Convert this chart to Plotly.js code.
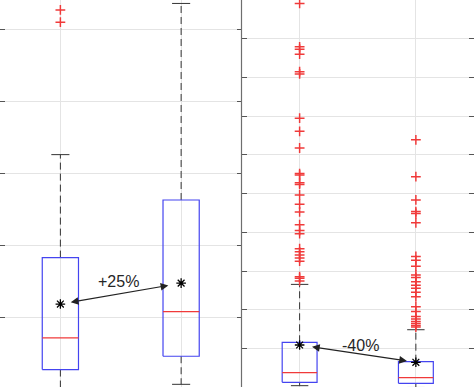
<!DOCTYPE html>
<html>
<head>
<meta charset="utf-8">
<script src="https://cdn.plot.ly/plotly-3.0.1.min.js"></script>
<style>
html,body{margin:0;padding:0;background:#fff;overflow:hidden;}
#chart{width:474px;height:387px;}
</style>
</head>
<body>
<div id="chart"></div>
<script>
// ---- data ----
const positions = [1, 2];

// left panel
const leftQ1 = [5.4, 9.1];
const leftMedian = [14.2, 21.5];
const leftQ3 = [36.5, 52.5];
const leftLower = [0, 1.3];
const leftUpper = [65.1, 107.1];
const leftMean = [23.6, 29.4];
const leftOutliersA = [101.9, 105.3];
const leftOutliersB = [];

// right panel
const rightQ1 = [1.33, 1.07];
const rightMedian = [3.81, 2.52];
const rightQ3 = [11.66, 6.65];
const rightLower = [0.46, 0];
const rightUpper = [26.6, 14.9];
const rightMean = [10.96, 6.5];
const rightOutliersA = [99.1, 87.9, 87.3, 86.0, 81.5, 80.9, 69.5, 66.1, 61.8, 55.2, 54.8, 52.8, 52.4,
  49.7, 47.3, 45.3, 42.0, 40.5, 39.7, 35.8, 35.0, 34.2, 33.4, 32.6, 28.6, 28.2, 27.5];
const rightOutliersB = [63.9, 54.4, 48.4, 45.4, 44.9, 42.5, 33.8, 32.8, 31.3, 29.0, 28.4, 27.3, 26.4,
  25.6, 24.6, 23.4, 20.8, 19.6, 18.3, 17.7, 17.0, 16.5, 16.0, 15.6];

const changeLabels = ['+25%', '-40%'];

// ---- styling ----
const BOX_W = 0.3, CAP_W = 0.15;
const BLUE = '#4444f0', RED = '#f03a3a', WHISK = '#333333';

function panelTraces(xa, ya, q1, med, q3, lo, hi, mean, outs) {
  const tr = [];
  positions.forEach((c, i) => {
    const L = c - BOX_W / 2, R = c + BOX_W / 2;
    // whiskers (dashed)
    tr.push({type:'scatter', mode:'lines', xaxis:xa, yaxis:ya, hoverinfo:'skip',
      x:[c, c, null, c, c], y:[q3[i], hi[i], null, q1[i], lo[i]],
      line:{color:WHISK, width:1, dash:'7px,4px'}});
    // caps
    tr.push({type:'scatter', mode:'lines', xaxis:xa, yaxis:ya, hoverinfo:'skip',
      x:[c - CAP_W/2, c + CAP_W/2, null, c - CAP_W/2, c + CAP_W/2],
      y:[hi[i], hi[i], null, lo[i], lo[i]],
      line:{color:WHISK, width:1}});
    // box
    tr.push({type:'scatter', mode:'lines', xaxis:xa, yaxis:ya, hoverinfo:'skip',
      x:[L, R, R, L, L], y:[q1[i], q1[i], q3[i], q3[i], q1[i]],
      line:{color:BLUE, width:1.2}});
    // median
    tr.push({type:'scatter', mode:'lines', xaxis:xa, yaxis:ya, hoverinfo:'skip',
      x:[L, R], y:[med[i], med[i]], line:{color:RED, width:1.2}});
    // outliers
    if (outs[i].length) {
      tr.push({type:'scatter', mode:'markers', xaxis:xa, yaxis:ya, hoverinfo:'skip',
        x:outs[i].map(() => c), y:outs[i],
        marker:{symbol:'cross-thin-open', size:7, color:RED, line:{color:RED, width:1.5}}});
    }
  });
  // means
  tr.push({type:'scatter', mode:'markers', xaxis:xa, yaxis:ya, hoverinfo:'skip',
    x:positions, y:mean,
    marker:{symbol:'asterisk-open', size:8, color:'#000', line:{color:'#000', width:1.3}}});
  return tr;
}

const data = [].concat(
  panelTraces('x', 'y', leftQ1, leftMedian, leftQ3, leftLower, leftUpper, leftMean, [leftOutliersA, leftOutliersB]),
  panelTraces('x2', 'y2', rightQ1, rightMedian, rightQ3, rightLower, rightUpper, rightMean, [rightOutliersA, rightOutliersB])
);

const split = 241.5 / 474;
const gridC = '#e4e4e4', tickC = '#555';
const xCommon = {range:[0.5, 2.5], tickvals:positions, showgrid:true, gridcolor:gridC, gridwidth:1,
  showticklabels:false, ticks:'', zeroline:false, showline:false, fixedrange:true};
const yCommon = {showgrid:true, gridcolor:gridC, gridwidth:1, showticklabels:false, ticks:'inside',
  ticklen:5, tickwidth:1, tickcolor:tickC, mirror:'ticks', zeroline:false, showline:false, fixedrange:true};

const arrowFont = {family:'Liberation Sans, Arial, sans-serif', size:16, color:'#262626'};

const layout = {
  width:474, height:387,
  margin:{l:0, r:0, t:0, b:0, pad:0},
  paper_bgcolor:'#fff', plot_bgcolor:'#fff',
  showlegend:false,
  xaxis: Object.assign({}, xCommon, {domain:[0, split], anchor:'y'}),
  yaxis: Object.assign({}, yCommon, {range:[0.556, 108.056], tick0:0, dtick:20, anchor:'x'}),
  xaxis2: Object.assign({}, xCommon, {domain:[split, 1], anchor:'y2'}),
  yaxis2: Object.assign({}, yCommon, {range:[0.12, 99.99], tick0:0, dtick:10, anchor:'x2'}),
  shapes:[
    {type:'line', xref:'x2 domain', yref:'paper', x0:0, x1:0, y0:0, y1:1,
     line:{color:'#6e6e6e', width:1.2}}
  ],
  annotations:[
    {xref:'x', yref:'y', axref:'x', ayref:'y', x:positions[1], y:leftMean[1], ax:positions[0], ay:leftMean[0],
     showarrow:true, arrowside:'end+start', arrowhead:2, startarrowhead:2, arrowsize:1.4, startarrowsize:1.4,
     arrowwidth:1.1, arrowcolor:'#222', standoff:13, startstandoff:9, text:''},
    {xref:'x', yref:'y', x:1.48, y:29.8, text:changeLabels[0], showarrow:false, font:arrowFont},
    {xref:'x2', yref:'y2', axref:'x2', ayref:'y2', x:positions[1], y:rightMean[1], ax:positions[0], ay:rightMean[0],
     showarrow:true, arrowside:'end+start', arrowhead:2, startarrowhead:2, arrowsize:1.4, startarrowsize:1.4,
     arrowwidth:1.1, arrowcolor:'#222', standoff:9, startstandoff:11, text:''},
    {xref:'x2', yref:'y2', x:1.52, y:10.8, text:changeLabels[1], showarrow:false, font:arrowFont}
  ]
};

Plotly.newPlot('chart', data, layout, {staticPlot:true, displayModeBar:false});
</script>
</body>
</html>
